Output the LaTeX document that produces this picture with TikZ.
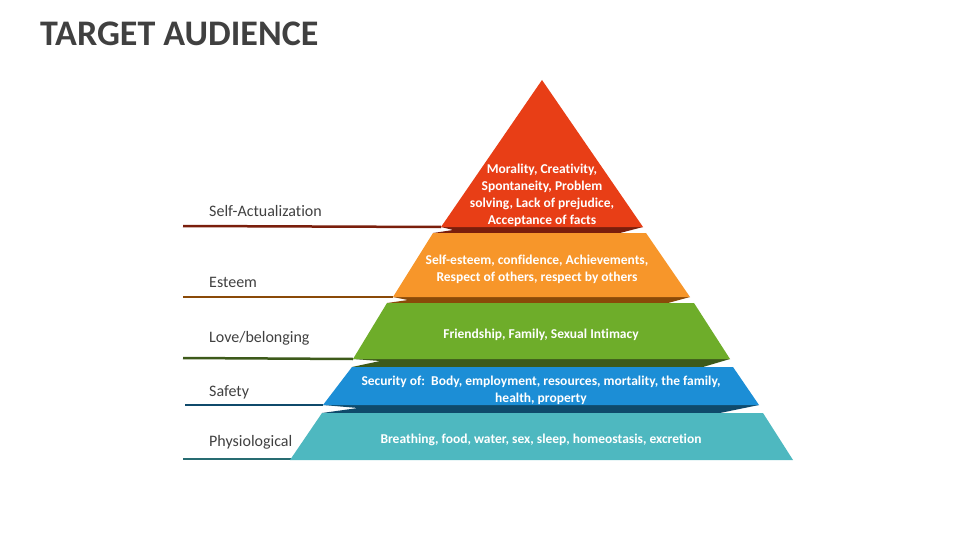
\documentclass[tikz,border=0pt]{standalone}
\usepackage{fontspec}
\setmainfont{Carlito}[Ligatures=NoCommon]
\usetikzlibrary{positioning, calc}
\definecolor{title1}{RGB}{64, 64, 64}
\definecolor{red1}{RGB}{232, 62, 22}
\definecolor{red2}{RGB}{122, 30, 12}
\definecolor{orange1}{RGB}{247, 150, 42}
\definecolor{orange2}{RGB}{138, 74, 8}
\definecolor{green1}{RGB}{110, 173, 42}
\definecolor{green2}{RGB}{61, 90, 26}
\definecolor{blue1}{RGB}{28, 142, 214}
\definecolor{blue2}{RGB}{15, 74, 107}
\definecolor{teal1}{RGB}{78, 184, 192}
\definecolor{teal2}{RGB}{40, 108, 114}

\begin{document}
\begin{tikzpicture}[x=1pt, y=-1pt,
    level/.style={font=\fontsize{16}{18}\selectfont, text=title1, anchor=base west, inner sep=0pt},
    tiertext/.style={font=\fontsize{13.5}{17}\selectfont\bfseries, text=white, align=center, inner sep=0pt},
    levelline/.style={line width=2.5pt}]
  \useasboundingbox (0,0) rectangle (960,540);

  \node[font=\fontsize{36}{40}\selectfont\bfseries, text=title1, anchor=base west, inner sep=0pt] (title) at (40,46) {TARGET AUDIENCE};

  % corners of the tiers
  \coordinate (apex) at (542,80);
  \coordinate (sa-bl) at (441,227);  \coordinate (sa-br) at (643,227);
  \coordinate (es-tl) at (433,233);  \coordinate (es-tr) at (646,233);
  \coordinate (es-bl) at (393,297);  \coordinate (es-br) at (690,297);
  \coordinate (lb-tl) at (387,303);  \coordinate (lb-tr) at (694,303);
  \coordinate (lb-bl) at (353,359);  \coordinate (lb-br) at (730,359);
  \coordinate (sf-tl) at (352,367);  \coordinate (sf-tr) at (733,367);
  \coordinate (sf-bl) at (323,405);  \coordinate (sf-br) at (759,405);
  \coordinate (ph-tl) at (322,413);  \coordinate (ph-tr) at (763,413);
  \coordinate (ph-bl) at (290,460);  \coordinate (ph-br) at (793,460);
  \coordinate (ph-end) at (411,459);

  % level labels and their lines
  \node[level] (sa) at (209,216) {Self-Actualization};
  \node[level] (es) at (209,287) {Esteem};
  \node[level] (lb) at (209,342) {Love/belonging};
  \node[level] (sf) at (209,396) {Safety};
  \node[level] (ph) at (209,446) {Physiological};

  \draw[levelline, red2] (183,226) -- (sa-bl);
  \draw[levelline, orange2] (183,297) -- (es-bl);
  \draw[levelline, green2] (183,358) -- (lb-bl);
  \draw[levelline, blue2] (185,405) -- (sf-bl);
  \draw[levelline, teal2] (183,459) -- (ph-end);

  % dark bands under the tiers
  \fill[red2] (sa-bl) -- ++(12,3) -- (es-tl) -- ($(es-tr)+(-26,0)$) -- (sa-br) -- cycle;
  \fill[orange2] (es-bl) -- ++(15,3) -- (lb-tl) -- ($(lb-tr)+(-26,0)$) -- (es-br) -- cycle;
  \fill[green2] (lb-bl) -- ++(27,2) -- (sf-tl) -- ($(sf-tr)+(-30,0)$) -- (lb-br) -- cycle;
  \fill[blue2] (sf-bl) -- ++(35,3) -- (ph-tl) -- ($(ph-tr)+(-43,0)$) -- (sf-br) -- cycle;

  % tiers
  \fill[red1] (apex) -- (sa-br) -- (sa-bl) -- cycle;
  \fill[orange1] (es-tl) -- (es-tr) -- (es-br) -- (es-bl) -- cycle;
  \fill[green1] (lb-tl) -- (lb-tr) -- (lb-br) -- (lb-bl) -- cycle;
  \fill[blue1] (sf-tl) -- (sf-tr) -- (sf-br) -- (sf-bl) -- cycle;
  \fill[teal1] (ph-tl) -- (ph-tr) -- (ph-br) -- (ph-bl) -- cycle;

  \node[tiertext] (sa-text) at (542,195) {Morality, Creativity,\\Spontaneity, Problem\\solving, Lack of prejudice,\\Acceptance of facts};
  \node[tiertext] (es-text) at (537,269.5) {Self-esteem, confidence, Achievements,\\Respect of others, respect by others};
  \node[tiertext] (lb-text) at (541,335) {Friendship, Family, Sexual Intimacy};
  \node[tiertext] (sf-text) at (541,390.5) {Security of:\ \ Body, employment, resources, mortality, the family,\\health, property};
  \node[tiertext] (ph-text) at (541,440) {Breathing, food, water, sex, sleep, homeostasis, excretion};
\end{tikzpicture}
\end{document}
